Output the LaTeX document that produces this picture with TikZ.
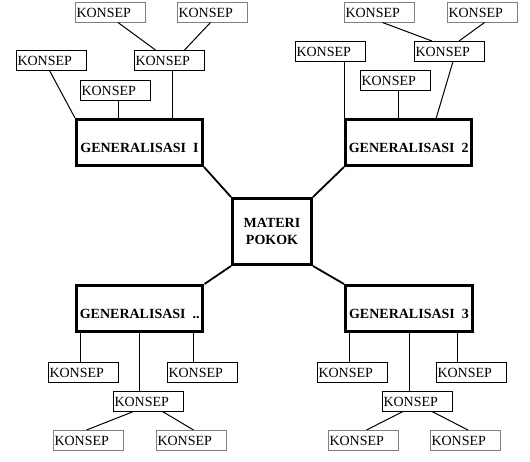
\documentclass[tikz,border=0pt]{standalone}
\usepackage{fontspec}
\setmainfont{Liberation Serif}
\usepackage{tikz}

\begin{document}
\begin{tikzpicture}[x=1pt, y=-1pt,
    konsep/.style={draw, line width=1pt, anchor=north west, text width=68pt, inner xsep=1pt, inner ysep=0pt,
        minimum height=19.5pt, text height=11pt, text depth=0pt, align=left, font=\fontsize{14}{16}\selectfont},
    daun/.style={konsep, draw=gray},
    general/.style={draw, line width=3pt, anchor=north west, minimum width=126pt, minimum height=46pt,
        text height=19pt, text depth=0pt, align=center, font=\fontsize{14}{16}\selectfont\bfseries},
    pokok/.style={draw, line width=3pt, anchor=north west, minimum width=79pt, minimum height=66pt,
        align=center, font=\fontsize{14}{17}\selectfont\bfseries},
    tipis/.style={line width=1pt},
    tebal/.style={line width=1.8pt}]
    \useasboundingbox (0,0) rectangle (530,461);

    % pusat dan generalisasi
    \node[pokok] (MP) at (231, 197) {MATERI\\POKOK};
    \node[general] (G1) at (75, 118) {GENERALISASI~~I};
    \node[general] (G2) at (344, 118) {GENERALISASI~~2};
    \node[general] (Gx) at (75, 284) {GENERALISASI~~..};
    \node[general, minimum width=127pt] (G3) at (344, 284) {GENERALISASI~~3};
    \draw[tebal] (G1.south east) -- (MP.north west);
    \draw[tebal] (G2.south west) -- (MP.north east);
    \draw[tebal] (MP.south west) -- (Gx.north east);
    \draw[tebal] (MP.south east) -- (G3.north west);

    % generalisasi I
    \node[daun] (K1a) at (75, 2) {KONSEP};
    \node[daun] (K1b) at (177, 2) {KONSEP};
    \node[konsep] (K1c) at (16, 50) {KONSEP};
    \node[konsep] (K1d) at (134, 50) {KONSEP};
    \node[konsep] (K1e) at (80, 80) {KONSEP};
    \draw[tipis] ([xshift=7.5pt]K1a.south) -- ([xshift=-14pt]K1d.north);
    \draw[tipis] ([xshift=-2pt]K1b.south) -- ([xshift=15pt]K1d.north);
    \draw[tipis] ([xshift=-2pt]K1c.south) -- (G1.north west);
    \draw[tipis] ([xshift=3pt]K1e.south) -- ([xshift=3pt]K1e.south |- G1.north);
    \draw[tipis] ([xshift=3pt]K1d.south) -- ([xshift=3pt]K1d.south |- G1.north);

    % generalisasi 2
    \node[daun] (K2a) at (344, 2) {KONSEP};
    \node[daun] (K2b) at (447, 2) {KONSEP};
    \node[konsep] (K2c) at (295, 41) {KONSEP};
    \node[konsep] (K2d) at (414, 41) {KONSEP};
    \node[konsep] (K2e) at (360, 70) {KONSEP};
    \draw[tipis] ([xshift=3pt]K2a.south) -- ([xshift=-17.5pt]K2d.north);
    \draw[tipis] ([xshift=2pt]K2b.south) -- ([xshift=9.5pt]K2d.north);
    \draw[tipis] ([xshift=14pt]K2c.south) -- ([xshift=14pt]K2c.south |- G2.north);
    \draw[tipis] ([xshift=3pt]K2e.south) -- ([xshift=3pt]K2e.south |- G2.north);
    \draw[tipis] ([xshift=3.5pt]K2d.south) -- ([xshift=27.5pt]G2.north);

    % generalisasi ..
    \node[konsep] (Kxa) at (48, 362) {KONSEP};
    \node[konsep] (Kxb) at (167, 362) {KONSEP};
    \node[konsep] (Kxc) at (113, 391) {KONSEP};
    \node[daun] (Kxd) at (53, 430) {KONSEP};
    \node[daun] (Kxe) at (156, 430) {KONSEP};
    \draw[tipis] ([xshift=-3pt]Kxa.north) -- ([xshift=-3pt]Kxa.north |- Gx.south);
    \draw[tipis] ([xshift=-9pt]Kxb.north) -- ([xshift=-9pt]Kxb.north |- Gx.south);
    \draw[tipis] ([xshift=-9pt]Kxc.north) -- ([xshift=-9pt]Kxc.north |- Gx.south);
    \draw[tipis] ([xshift=-15pt]Kxc.south) -- ([xshift=-2pt]Kxd.north);
    \draw[tipis] ([xshift=14pt]Kxc.south) -- ([xshift=2pt]Kxe.north);

    % generalisasi 3
    \node[konsep] (K3a) at (317, 362) {KONSEP};
    \node[konsep] (K3b) at (436, 362) {KONSEP};
    \node[konsep] (K3c) at (382, 391) {KONSEP};
    \node[daun] (K3d) at (328, 430) {KONSEP};
    \node[daun] (K3e) at (430, 430) {KONSEP};
    \draw[tipis] ([xshift=-3pt]K3a.north) -- ([xshift=-3pt]K3a.north |- G3.south);
    \draw[tipis] ([xshift=-14pt]K3b.north) -- ([xshift=-14pt]K3b.north |- G3.south);
    \draw[tipis] ([xshift=-8.5pt]K3c.north) -- ([xshift=-8.5pt]K3c.north |- G3.south);
    \draw[tipis] ([xshift=-14.5pt]K3c.south) -- ([xshift=3pt]K3d.north);
    \draw[tipis] ([xshift=14.5pt]K3c.south) -- ([xshift=2.5pt]K3e.north);
\end{tikzpicture}
\end{document}
